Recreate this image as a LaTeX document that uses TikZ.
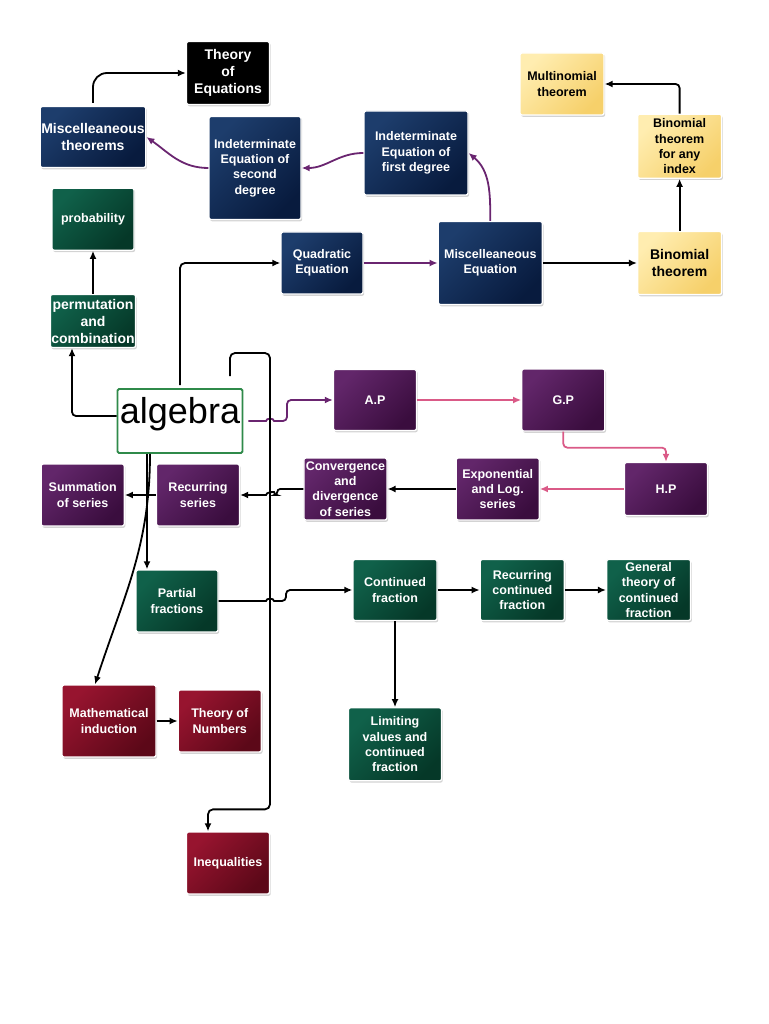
\documentclass[tikz,border=0pt]{standalone}
\usepackage{fontspec}
\setmainfont{Liberation Sans}
\usepackage{tikz}
\usetikzlibrary{arrows.meta,positioning,calc,shadows}
\usepackage{xcolor}
\definecolor{AlgNavyA}{HTML}{1D3D6C}
\definecolor{AlgNavyB}{HTML}{081B3E}
\definecolor{AlgPlumA}{HTML}{62266A}
\definecolor{AlgPlumB}{HTML}{3A0D3E}
\definecolor{AlgPineA}{HTML}{10614A}
\definecolor{AlgPineB}{HTML}{053828}
\definecolor{AlgWineA}{HTML}{97142F}
\definecolor{AlgWineB}{HTML}{5C0818}
\definecolor{AlgSandA}{HTML}{FFEDB0}
\definecolor{AlgSandB}{HTML}{F6D06A}
\definecolor{AlgLeaf}{HTML}{2F8A4A}
\definecolor{AlgViolet}{HTML}{6A2570}
\definecolor{AlgRose}{HTML}{DA5A87}

\begin{document}
\begin{tikzpicture}[x=1pt,y=-1pt,node distance=40pt and 40pt,
    every node/.style={align=center,font=\bfseries\fontsize{12.5}{15.3}\selectfont},
    topic/.style={draw=white,line width=1.3pt,rounded corners=2pt,text=white,inner sep=1pt,minimum width=83pt,minimum height=62pt,drop shadow={opacity=0.35,shadow xshift=1.2pt,shadow yshift=-1.8pt}},
    navy/.style={topic,top color=AlgNavyA,bottom color=AlgNavyB,shading angle=45},
    plum/.style={topic,top color=AlgPlumA,bottom color=AlgPlumB,shading angle=45},
    pine/.style={topic,top color=AlgPineA,bottom color=AlgPineB,shading angle=45},
    wine/.style={topic,top color=AlgWineA,bottom color=AlgWineB,shading angle=45},
    sand/.style={topic,top color=AlgSandA,bottom color=AlgSandB,shading angle=45,text=black},
    big/.style={font=\bfseries\fontsize{14}{17}\selectfont},
    link/.style={-{Latex[length=8pt,width=7pt]},line width=1.8pt}]
    \useasboundingbox (0,0) rectangle (768,1024);
    \node[draw=AlgLeaf,line width=1.8pt,fill=white,rounded corners=1.5pt,minimum width=125pt,minimum height=64pt,inner sep=0pt,text depth=22pt,font=\fontsize{36}{40}\selectfont] (alg) at (180,421) {algebra};
    \node[navy,minimum width=82pt] (quad) at (322,263) {Quadratic\\Equation};
    \node[navy,right=74pt of quad,minimum width=104pt,minimum height=83pt] (misceq) {Miscelleaneous\\Equation};
    \node[sand,big,right=94pt of misceq,minimum width=84pt,minimum height=63pt] (binom) {Binomial\\theorem};
    \node[sand,above=52pt of binom,minimum width=84pt,minimum height=64pt] (binany) {Binomial\\theorem\\for any\\index};
    \node[sand,minimum width=84pt] (multi) at (562,84) {Multinomial\\theorem};
    \node[navy,minimum width=104pt,minimum height=84pt] (ind1) at (416,153) {Indeterminate\\Equation of\\first degree};
    \node[navy,minimum width=92pt,minimum height=103pt] (ind2) at (255,168) {Indeterminate\\Equation of\\second\\degree};
    \node[navy,big,minimum width=103pt,minimum height=61pt] (miscth) at (93,137) {Miscelleaneous\\theorems};
    \node[topic,fill=black,big,minimum height=63pt] (theory) at (228,73) {Theory\\of\\Equations};
    \node[pine,big,minimum width=82pt,minimum height=53pt] (perm) at (93,321) {permutation\\and\\combination};
    \node[pine,above=43pt of perm,minimum width=82pt] (prob) {probability};
    \node[plum,minimum height=61pt] (ap) at (375,400) {A.P};
    \node[plum,right=104pt of ap] (gp) {G.P};
    \node[plum,minimum height=53pt] (hp) at (666,489) {H.P};
    \node[plum,left=84pt of hp] (expo) {Exponential\\and Log.\\series};
    \node[plum,left=68pt of expo] (conv) {Convergence\\and\\divergence\\of series};
    \node[plum] (recs) at (198,495) {Recurring\\series};
    \node[plum,left=31pt of recs] (summ) {Summation\\of series};
    \node[pine,minimum width=82pt] (part) at (177,601) {Partial\\fractions};
    \node[pine,minimum width=84pt,minimum height=61pt] (cont) at (395,590) {Continued\\fraction};
    \node[pine,right=42pt of cont,minimum width=84pt,minimum height=61pt] (reccont) {Recurring\\continued\\fraction};
    \node[pine,right=41pt of reccont,minimum width=84pt,minimum height=61pt] (gent) {General\\theory of\\continued\\fraction};
    \node[pine,below=86pt of cont,minimum width=93pt,minimum height=73pt] (limit) {Limiting\\values and\\continued\\fraction};
    \node[wine,minimum width=94pt,minimum height=72pt] (math) at (109,721) {Mathematical\\induction};
    \node[wine,right=21pt of math] (numb) {Theory of\\Numbers};
    \node[wine] (ineq) at (228,863) {Inequalities};
    \coordinate (bus) at (270,353);
    \foreach \x/\y in {misceq/binom,binom/binany,perm/prob,expo/conv,recs/summ,cont/reccont,reccont/gent,cont/limit,math/numb}{\draw[link] (\x)--(\y);}
    \foreach \x/\y in {ap/gp,hp/expo}{\draw[link,AlgRose] (\x)--(\y);}
    \draw[link,AlgViolet] (quad)--(misceq);
    \draw[link,rounded corners=14pt] ([yshift=3pt]miscth.north) |- (theory.west);
    \draw[link,AlgViolet] (ind2.west) to[out=180,in=-35] (miscth.east);
    \draw[link,AlgViolet] (ind1.west) to[out=180,in=0] (ind2.east);
    \draw[link,AlgViolet] (misceq.north) to[out=90,in=-40] (ind1.east);
    \draw[link,rounded corners=4pt] (binany.north) |- (multi.east);
    \draw[link,rounded corners=5pt] ([yshift=3pt]alg.north) |- (quad.west);
    \draw[link,rounded corners=4pt] ([yshift=5pt]alg.west) -| ([xshift=-21pt]perm.south);
    \draw[link,AlgViolet] ([xshift=5pt]alg.east) -- ($(alg.east -| bus)+(-4,0)$) to[out=90,in=90] ($(alg.east -| bus)+(4,0)$) [rounded corners=4pt] -- ++(13,0) |- (ap.west);
    \draw[link,AlgRose,rounded corners=4pt] (gp.south) -- ++(0,16) -| (hp.north);
    \draw[link,rounded corners=3pt] (conv.west) -- ++(-26,0) |- ($(recs.east -| bus)+(4,0)$) [sharp corners] to[out=90,in=90] ($(recs.east -| bus)+(-4,0)$) -- (recs.east);
    \draw[link] (part.east) -- ($(part.east -| bus)+(-4,0)$) to[out=90,in=90] ($(part.east -| bus)+(4,0)$) [rounded corners=4pt] -- ++(12,0) |- (cont.west);
    \draw[link] ([xshift=-33pt]alg.south) -- ([xshift=-30pt]part.north);
    \draw[link] ([xshift=-30pt]alg.south) to[out=-90,in=72] ([xshift=-14pt]math.north);
    \draw[link,rounded corners=5pt] ([shift={(50pt,12pt)}]alg.north) |- (bus) |- ([shift={(-20pt,22pt)}]ineq.north) -- ([xshift=-20pt]ineq.north);
\end{tikzpicture}
\end{document}
